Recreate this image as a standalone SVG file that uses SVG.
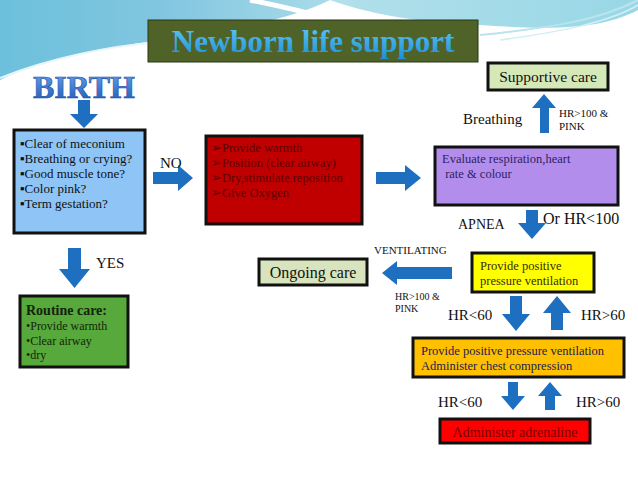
<svg xmlns="http://www.w3.org/2000/svg" width="638" height="478" viewBox="0 0 638 478">
<defs>
<linearGradient id="bgL" x1="0" y1="0" x2="1" y2="0">
<stop offset="0" stop-color="#6cc0dc"/>
<stop offset="0.5" stop-color="#82c6e0"/>
<stop offset="1" stop-color="#a8dbe8"/>
</linearGradient>
<linearGradient id="bgR" x1="0" y1="0" x2="1" y2="0">
<stop offset="0" stop-color="#9fd8e6"/>
<stop offset="1" stop-color="#7fcde0"/>
</linearGradient>
<linearGradient id="birth" x1="0" y1="0" x2="0" y2="1">
<stop offset="0" stop-color="#6aa8ee"/>
<stop offset="1" stop-color="#1a56b8"/>
</linearGradient>
<linearGradient id="title" x1="0" y1="0" x2="0" y2="1">
<stop offset="0" stop-color="#5ec8f4"/>
<stop offset="1" stop-color="#1e8fd8"/>
</linearGradient>
<style>
.box{stroke:#111;stroke-width:3}
.arr{fill:#1e6fc0}
.t{font-family:"Liberation Serif","DejaVu Serif",serif;fill:#111}
</style>
</defs>
<rect width="638" height="478" fill="#ffffff"/>
<g id="background">
<path d="M0,0 H330 C290,20 230,30 160,40 C90,50 40,60 0,80 Z" fill="url(#bgL)"/>
<path d="M330,0 H638 V10 C600,30 550,30 480,25 C430,22 380,18 330,0 Z" fill="url(#bgR)" opacity="0.8"/>
<path d="M250,0 C290,8 320,16 335,20" stroke="#ffffff" stroke-width="5" fill="none"/>
<path d="M0,78 C50,58 110,46 160,42" stroke="#e8f6fb" stroke-width="2" fill="none"/>
<path d="M480,35 C550,28 600,20 638,0" stroke="#b8e4ee" stroke-width="2" fill="none"/>
<path d="M500,40 C560,32 610,22 638,5" stroke="#d0eef5" stroke-width="1.5" fill="none"/>
</g>
<g id="title-node">
<rect x="148" y="20" width="330" height="42" fill="#4f6228" stroke="#2b3616" stroke-width="1"/>
<text x="313" y="52" text-anchor="middle" font-family="'Liberation Serif','DejaVu Serif',serif" font-size="31" font-weight="bold" fill="url(#title)">Newborn life support</text>
</g>
<g id="birth-node">
<text x="84" y="98" text-anchor="middle" font-family="'Liberation Serif','DejaVu Serif',serif" font-size="32" font-weight="bold" fill="url(#birth)" stroke="#1a4aa0" stroke-width="0.6">BIRTH</text>
</g>
<g id="assess">
<rect class="box" x="14" y="130" width="131" height="103" fill="#8ec5f6"/>
<text class="t" font-size="13"><tspan x="20" y="148">▪Clear of meconium</tspan><tspan x="20" y="163">▪Breathing or crying?</tspan><tspan x="20" y="178">▪Good muscle tone?</tspan><tspan x="20" y="193">▪Color pink?</tspan><tspan x="20" y="208">▪Term gestation?</tspan></text>
</g>
<g id="initial">
<rect class="box" x="206" y="136" width="156" height="88" fill="#c00000"/>
<text class="t" font-size="12.5" style="fill:#5e0000"><tspan x="211" y="152">➢Provide warmth</tspan><tspan x="211" y="167">➢Position (clear airway)</tspan><tspan x="211" y="182">➢Dry,stimulate,reposition</tspan><tspan x="211" y="197">➢Give Oxygen</tspan></text>
</g>
<g id="evaluate">
<rect class="box" x="435" y="147" width="183" height="58" fill="#b28deb"/>
<text class="t" font-size="12.5" style="fill:#2e1f66"><tspan x="442" y="163">Evaluate respiration,heart</tspan><tspan x="442" y="178"> rate &amp; colour</tspan></text>
</g>
<g id="supportive">
<rect class="box" x="488" y="63" width="120" height="27" fill="#d4e8b8"/>
<text class="t" x="548" y="82" font-size="15.5" text-anchor="middle">Supportive care</text>
</g>
<g id="ppv">
<rect class="box" x="472" y="253" width="122" height="39" fill="#ffff00"/>
<text class="t" font-size="12.5" style="fill:#3a2a10"><tspan x="480" y="270">Provide positive</tspan><tspan x="480" y="285">pressure ventilation</tspan></text>
</g>
<g id="ongoing">
<rect class="box" x="259" y="259" width="108" height="26" fill="#d7e4bd"/>
<text class="t" x="313" y="278" font-size="16" text-anchor="middle">Ongoing care</text>
</g>
<g id="ppv-cc">
<rect class="box" x="413" y="338" width="211" height="39" fill="#ffc000"/>
<text class="t" font-size="12.5" style="fill:#1c1c50"><tspan x="421" y="355">Provide positive pressure ventilation</tspan><tspan x="421" y="370">Administer chest compression</tspan></text>
</g>
<g id="adrenaline">
<rect class="box" x="440" y="419" width="150" height="24" fill="#ff0000"/>
<text class="t" x="515" y="437" font-size="14" text-anchor="middle" style="fill:#7a0000">Administer adrenaline</text>
</g>
<g id="routine">
<rect class="box" x="20" y="296" width="108" height="71" fill="#56a93a"/>
<text class="t" x="26" y="315" font-size="14" font-weight="bold" style="fill:#14240c">Routine care:</text>
<text class="t" font-size="12" style="fill:#14240c"><tspan x="26" y="330">•Provide warmth</tspan><tspan x="26" y="345">•Clear airway</tspan><tspan x="26" y="359">•dry</tspan></text>
</g>
<g id="connectors">
<path class="arr" d="M78,100 H90 V114 H98 L84,128 L70,114 H78 Z"/>
<path class="arr" d="M153,172 H178 V165 L193,178 L178,191 V184 H153 Z"/>
<path class="arr" d="M376,172 H405 V165 L421,178 L405,191 V184 H376 Z"/>
<path class="arr" d="M540,133 H549 V108 H556 L544,94 L532,108 H540 Z"/>
<path class="arr" d="M526,210 H538 V223 H546 L532,239 L518,223 H526 Z"/>
<path class="arr" d="M452,267 H397 V261 L382,273 L397,285 V279 H452 Z"/>
<path class="arr" d="M510,296 H522 V314 H530 L516,331 L502,314 H510 Z"/>
<path class="arr" d="M551,330 H563 V313 H571 L557,296 L543,313 H551 Z"/>
<path class="arr" d="M508,382 H518 V396 H525 L513,410 L501,396 H508 Z"/>
<path class="arr" d="M545,410 H555 V396 H562 L550,382 L538,396 H545 Z"/>
<path class="arr" d="M68,248 H81 V269 H90 L74.5,288 L59,269 H68 Z"/>
</g>
<g id="labels">
<text class="t" x="160" y="168" font-size="15">NO</text>
<text class="t" x="96" y="268" font-size="15">YES</text>
<text class="t" x="463" y="124" font-size="15">Breathing</text>
<text class="t" font-size="11"><tspan x="559" y="117">HR&gt;100 &amp;</tspan><tspan x="559" y="130">PINK</tspan></text>
<text class="t" x="458" y="229" font-size="14">APNEA</text>
<text class="t" x="543" y="224" font-size="16">Or HR&lt;100</text>
<text class="t" x="374" y="254" font-size="11">VENTILATING</text>
<text class="t" font-size="10"><tspan x="395" y="300">HR&gt;100 &amp;</tspan><tspan x="395" y="312">PINK</tspan></text>
<text class="t" x="448" y="320" font-size="15">HR&lt;60</text>
<text class="t" x="581" y="320" font-size="15">HR&gt;60</text>
<text class="t" x="438" y="407" font-size="15">HR&lt;60</text>
<text class="t" x="576" y="407" font-size="15">HR&gt;60</text>
</g>
</svg>
